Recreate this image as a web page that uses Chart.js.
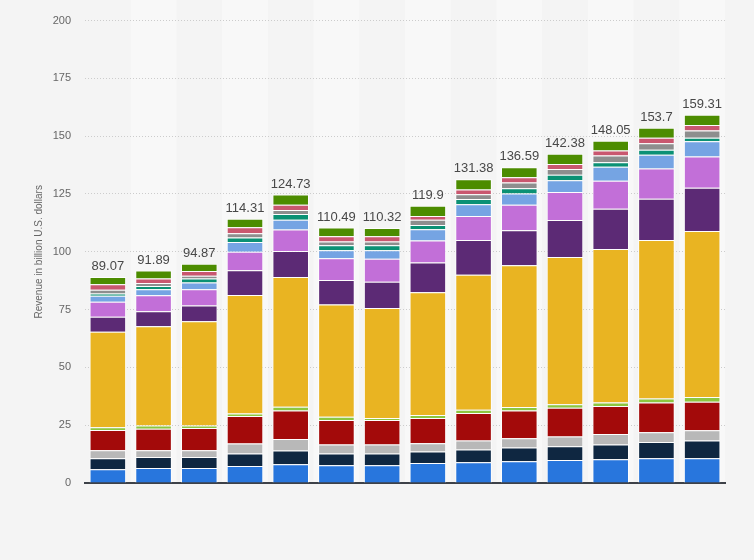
<!DOCTYPE html>
<html>
<head>
<meta charset="utf-8">
<script src="https://cdn.jsdelivr.net/npm/chart.js@4.4.0/dist/chart.umd.min.js"></script>
<style>
  html, body { margin: 0; padding: 0; background: #f4f4f4; }
  #wrap { width: 754px; height: 560px; }
</style>
</head>
<body>
<div id="wrap"><canvas id="bar-chart" width="754" height="560"></canvas></div>
<script>
// categories (not shown on the axis in the original)
var years = ['2005','2006','2007','2008','2009','2010','2011','2012','2013','2014','2015','2016','2017','2018'];

// totals printed above each bar
var totals = [89.07, 91.89, 94.87, 114.31, 124.73, 110.49, 110.32, 119.9, 131.38, 136.59, 142.38, 148.05, 153.7, 159.31];

// stacked segments, bottom to top
var seg01 = [5.9, 6.5, 6.5, 7.4, 8.1, 7.7, 7.7, 8.6, 9.0, 9.4, 9.9, 10.3, 10.7, 10.7];
var seg02 = [4.8, 4.7, 4.7, 5.4, 6.0, 5.1, 5.1, 5.0, 5.5, 6.0, 6.0, 6.4, 7.0, 7.7];
var seg03 = [3.5, 3.0, 3.0, 4.3, 4.9, 3.9, 3.9, 3.6, 3.9, 4.0, 4.2, 4.5, 4.3, 4.4];
var seg04 = [8.7, 9.3, 9.6, 11.9, 12.4, 10.5, 10.5, 10.9, 11.9, 12.0, 12.4, 12.1, 12.8, 12.3];
var seg05 = [1.2, 1.4, 1.1, 1.1, 1.6, 1.5, 0.9, 1.3, 1.4, 1.5, 1.6, 1.5, 1.7, 2.1];
var seg06 = [41.3, 42.9, 45.1, 51.2, 56.1, 48.5, 47.6, 53.1, 58.4, 61.3, 63.6, 66.4, 68.6, 71.8];
var seg07 = [6.5, 6.5, 6.8, 10.7, 11.3, 10.6, 11.3, 12.9, 15.0, 15.1, 16.1, 17.4, 17.8, 18.7];
var seg08 = [6.5, 6.9, 7.0, 8.0, 9.2, 9.4, 10.0, 9.5, 10.4, 11.0, 12.1, 12.1, 13.1, 13.5];
var seg09 = [2.6, 2.6, 2.9, 4.2, 4.3, 3.5, 3.7, 4.8, 5.1, 4.9, 5.1, 6.1, 6.0, 6.6];
var seg10 = [1.0, 1.4, 1.7, 2.0, 2.5, 2.1, 2.1, 1.9, 2.2, 2.3, 2.3, 1.9, 2.1, 1.5];
var seg11 = [1.6, 1.3, 1.2, 1.8, 1.7, 1.7, 1.7, 2.3, 2.1, 2.5, 2.5, 2.9, 2.9, 3.2];
var seg12 = [2.4, 1.9, 2.1, 2.6, 2.3, 2.2, 2.2, 1.6, 2.1, 2.2, 2.2, 2.2, 2.3, 2.3];
var seg13 = [3.07, 3.49, 3.17, 3.71, 4.33, 3.79, 3.62, 4.4, 4.38, 4.39, 4.38, 4.25, 4.4, 4.51];

var segments = [seg01, seg02, seg03, seg04, seg05, seg06, seg07, seg08, seg09, seg10, seg11, seg12, seg13];
var colors = ['#2876dd', '#0f2741', '#b8b8b8', '#a30a0a', '#8dc63f', '#e9b422', '#5c2a75',
              '#c26fd8', '#75a4e3', '#0b9174', '#8e8e8e', '#c9576f', '#4c8c00'];

var yTicks = [0, 25, 50, 75, 100, 125, 150, 175, 200];

// alternating light column bands behind the bars
var bandPlugin = {
  id: 'bands',
  beforeDraw: function(chart) {
    var ctx = chart.ctx, x = chart.scales.x, area = chart.chartArea;
    var w = (area.right - area.left) / years.length;
    ctx.save();
    ctx.fillStyle = '#f8f8f8';
    for (let i = 1; i < years.length; i += 2) {
      var cx = x.getPixelForValue(i);
      ctx.fillRect(cx - w / 2, 0, w, area.bottom);
    }
    ctx.restore();
  }
};

// totals above the stacks
var totalPlugin = {
  id: 'totals',
  afterDatasetsDraw: function(chart) {
    var ctx = chart.ctx, x = chart.scales.x, y = chart.scales.y;
    ctx.save();
    ctx.font = '13px "Liberation Sans", Arial, sans-serif';
    ctx.fillStyle = '#484848';
    ctx.textAlign = 'center';
    ctx.textBaseline = 'bottom';
    for (let i = 0; i < totals.length; i++) {
      ctx.fillText(String(totals[i]), x.getPixelForValue(i), y.getPixelForValue(totals[i]) - 4);
    }
    ctx.restore();
  }
};

var datasets = [];
for (let i = 0; i < segments.length; i++) {
  datasets.push({
    label: 'Segment ' + (i + 1),
    data: segments[i],
    backgroundColor: colors[i],
    borderColor: 'rgba(255,255,255,0.85)',
    borderWidth: 1,
    borderSkipped: 'start',
    categoryPercentage: 0.8,
    barPercentage: 1.0
  });
}

new Chart(document.getElementById('bar-chart'), {
  type: 'bar',
  data: { labels: years, datasets: datasets },
  plugins: [bandPlugin, totalPlugin],
  options: {
    responsive: false,
    animation: false,
    layout: { padding: { top: 20, right: 29, bottom: 77, left: 0 } },
    plugins: {
      legend: { display: false },
      title: { display: false },
      tooltip: { enabled: false }
    },
    scales: {
      x: {
        stacked: true,
        grid: { display: false, drawTicks: false },
        border: { display: true, color: '#3d4148', width: 2 },
        ticks: { display: false }
      },
      y: {
        stacked: true,
        min: 0,
        max: 200,
        afterBuildTicks: function(scale) {
          scale.ticks = yTicks.map(function(v) { return { value: v }; });
        },
        afterFit: function(scale) { scale.width = 85; },
        grid: { color: '#cccccc', lineWidth: 1, drawTicks: false },
        border: { display: false, dash: [1, 2] },
        ticks: {
          padding: 14,
          color: '#666',
          font: { family: '"Liberation Sans", Arial, sans-serif', size: 11 }
        },
        title: {
          display: true,
          text: 'Revenue in billion U.S. dollars',
          color: '#666',
          padding: { top: 33, bottom: 0 },
          font: { family: '"Liberation Sans", Arial, sans-serif', size: 10 }
        }
      }
    }
  }
});
</script>
</body>
</html>
